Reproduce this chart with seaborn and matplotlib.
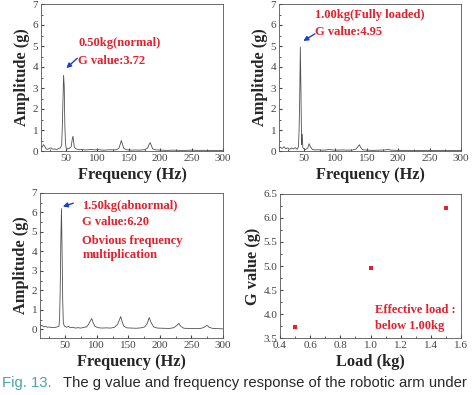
import numpy as np
import pandas as pd
import matplotlib
matplotlib.use("Agg")
import matplotlib.pyplot as plt
from matplotlib.ticker import MultipleLocator, FormatStrFormatter
from matplotlib.patches import Rectangle
import seaborn as sns

# -------------------------------------------------------------
# Data
# -------------------------------------------------------------
spec_050 = [(10, 0.12), (12, 0.2), (14, 0.3), (16, 0.22), (18, 0.1), (20, 0.08),
            (23, 0.12), (26, 0.15), (29, 0.08), (32, 0.1), (35, 0.07), (38, 0.12),
            (41, 0.15), (43, 0.3), (44, 1.2), (45, 2.4), (46, 3.6), (47, 3.1),
            (48, 1.2), (49, 0.4), (50, 0.15), (52, 0.1), (55, 0.12), (58, 0.2),
            (60, 0.6), (61, 0.7), (62, 0.45), (63, 0.2), (65, 0.12), (68, 0.08),
            (72, 0.06), (76, 0.07), (80, 0.05), (85, 0.06), (90, 0.08), (95, 0.05),
            (100, 0.07), (105, 0.05), (110, 0.04), (115, 0.05), (120, 0.06), (125, 0.05),
            (130, 0.06), (134, 0.12), (136, 0.3), (138, 0.5), (140, 0.3), (142, 0.12),
            (146, 0.06), (150, 0.05), (155, 0.04), (160, 0.05), (165, 0.04), (170, 0.05),
            (175, 0.06), (180, 0.15), (182, 0.3), (184, 0.4), (186, 0.25), (188, 0.1),
            (192, 0.06), (196, 0.05), (200, 0.04), (210, 0.03), (220, 0.04), (230, 0.03),
            (240, 0.03), (250, 0.04), (260, 0.03), (270, 0.03), (280, 0.03), (290, 0.02),
            (300, 0.02)]

spec_100 = [(10, 0.1), (12, 0.18), (15, 0.12), (18, 0.2), (21, 0.1), (24, 0.15),
            (27, 0.08), (30, 0.14), (33, 0.1), (36, 0.16), (39, 0.08), (41, 0.2),
            (42, 1.0), (43, 2.5), (44, 4.95), (45, 2.8), (46, 0.3), (47, 0.8),
            (48, 0.15), (50, 0.1), (53, 0.08), (56, 0.15), (58, 0.35), (60, 0.2),
            (63, 0.08), (67, 0.05), (72, 0.06), (78, 0.04), (85, 0.05), (90, 0.07),
            (95, 0.05), (100, 0.04), (110, 0.05), (120, 0.04), (128, 0.05), (133, 0.1),
            (136, 0.22), (138, 0.3), (140, 0.18), (143, 0.06), (150, 0.04), (160, 0.03),
            (170, 0.04), (180, 0.05), (184, 0.08), (188, 0.04), (200, 0.03), (215, 0.03),
            (230, 0.02), (245, 0.03), (260, 0.02), (275, 0.03), (290, 0.02), (300, 0.02)]

spec_150 = [(10, 0.15), (13, 0.2), (16, 0.12), (19, 0.15), (22, 0.1), (25, 0.12),
            (28, 0.08), (31, 0.1), (34, 0.09), (37, 0.12), (40, 0.15), (41, 0.5),
            (42, 2.0), (43, 4.5), (44, 6.2), (45, 4.0), (46, 1.5), (47, 0.3),
            (49, 0.15), (52, 0.1), (55, 0.15), (58, 0.08), (62, 0.1), (66, 0.06),
            (70, 0.08), (75, 0.06), (80, 0.1), (84, 0.12), (87, 0.25), (90, 0.45),
            (92, 0.55), (94, 0.35), (97, 0.15), (102, 0.08), (108, 0.06), (115, 0.07),
            (122, 0.06), (128, 0.1), (133, 0.25), (136, 0.5), (138, 0.65), (140, 0.4),
            (143, 0.15), (148, 0.07), (155, 0.06), (162, 0.05), (170, 0.07), (176, 0.12),
            (180, 0.3), (183, 0.6), (186, 0.35), (190, 0.12), (196, 0.06), (205, 0.05),
            (215, 0.04), (222, 0.08), (227, 0.2), (230, 0.3), (233, 0.15), (238, 0.05),
            (248, 0.04), (258, 0.03), (266, 0.05), (271, 0.12), (275, 0.2), (278, 0.1),
            (284, 0.04), (292, 0.03), (300, 0.02)]

loads = [0.5, 1.0, 1.5]
g_values = [3.72, 4.95, 6.20]

# -------------------------------------------------------------
# Style
# -------------------------------------------------------------
sns.set_style("ticks")
plt.rcParams['font.family'] = ['Liberation Serif', 'DejaVu Serif']
plt.rcParams.update({
    'xtick.direction': 'in', 'ytick.direction': 'in',
    'xtick.labelsize': 8, 'ytick.labelsize': 8,
    'xtick.major.size': 2.5, 'ytick.major.size': 2.5,
    'xtick.minor.size': 1.5, 'ytick.minor.size': 1.5,
    'axes.linewidth': 0.6, 'axes.edgecolor': '#555555',
    'xtick.color': '#444444', 'ytick.color': '#444444',
})

RED = '#e3202c'
BLUE = '#1a3fd0'
LINE = '#505050'

fig = plt.figure(figsize=(4.74, 3.95), dpi=100)
W, H = 474, 395


def add_ax(left, top, right, bottom):
    return fig.add_axes([left / W, 1 - bottom / H, (right - left) / W, (bottom - top) / H])


ax_tl = add_ax(41, 4, 223, 151)
ax_tr = add_ax(279, 4, 461, 151)
ax_bl = add_ax(40, 193, 223, 338)
ax_br = add_ax(280, 194, 461, 338)


def spectrum(ax, pairs, ylim):
    df = pd.DataFrame(pairs, columns=['freq', 'amp'])
    sns.lineplot(data=df, x='freq', y='amp', ax=ax, color=LINE, linewidth=0.6)
    ax.set_xlim(10, 300)
    ax.set_ylim(*ylim)
    ax.xaxis.set_major_locator(MultipleLocator(50))
    ax.xaxis.set_minor_locator(MultipleLocator(25))
    ax.yaxis.set_major_locator(MultipleLocator(1))
    ax.yaxis.set_minor_locator(MultipleLocator(0.5))
    ax.set_xlabel('Frequency (Hz)', fontsize=11.8, fontweight='bold', labelpad=3)
    ax.set_ylabel('Amplitude (g)', fontsize=11.8, fontweight='bold', labelpad=2)
    ax.tick_params(pad=2)
    for s in ax.spines.values():
        s.set_visible(True)


spectrum(ax_tl, spec_050, (0, 7))
spectrum(ax_tr, spec_100, (0, 7))
spectrum(ax_bl, spec_150, (-0.45, 7))

txt = dict(color=RED, fontsize=9, fontweight='bold', va='center', ha='left')
arw = dict(arrowstyle='-|>', color=BLUE, lw=1.0, mutation_scale=7)

ax_tl.text(69, 5.12, '0.50kg(normal)', **txt)
ax_tl.text(69, 4.3, 'G value:3.72', **txt)
ax_tl.annotate('', xy=(47, 3.86), xytext=(71, 4.5), arrowprops=arw)

ax_tr.text(68, 6.47, '1.00kg(Fully loaded)', **txt)
ax_tr.text(68, 5.65, 'G value:4.95', **txt)
ax_tr.annotate('', xy=(45, 5.17), xytext=(71, 5.65), arrowprops=arw)

ax_bl.text(77, 6.31, '1.50kg(abnormal)', **txt)
ax_bl.text(77, 5.53, 'G value:6.20', **txt)
ax_bl.text(77, 4.55, 'Obvious frequency', **txt)
ax_bl.text(77, 3.83, 'multiplication', **txt)
ax_bl.annotate('', xy=(42, 6.26), xytext=(67, 6.52), arrowprops=arw)

# G value vs load
df_g = pd.DataFrame({'load': loads, 'g': g_values})
sns.scatterplot(data=df_g, x='load', y='g', ax=ax_br, marker='s', s=12,
                color=RED, edgecolor=RED, linewidth=0)
ax_br.set_xlim(0.4, 1.6)
ax_br.set_ylim(3.5, 6.5)
ax_br.xaxis.set_major_locator(MultipleLocator(0.2))
ax_br.xaxis.set_minor_locator(MultipleLocator(0.1))
ax_br.yaxis.set_major_locator(MultipleLocator(0.5))
ax_br.yaxis.set_minor_locator(MultipleLocator(0.25))
ax_br.xaxis.set_major_formatter(FormatStrFormatter('%.1f'))
ax_br.yaxis.set_major_formatter(FormatStrFormatter('%.1f'))
ax_br.set_xlabel('Load (kg)', fontsize=11.8, fontweight='bold', labelpad=3)
ax_br.set_ylabel('G value (g)', fontsize=11.8, fontweight='bold', labelpad=2)
ax_br.tick_params(pad=2)
for s in ax_br.spines.values():
    s.set_visible(True)
ax_br.text(1.03, 4.08, 'Effective load :', **txt)
ax_br.text(1.03, 3.75, 'below 1.00kg', **txt)

# caption band
fig.add_artist(Rectangle((0, 0), 1, 1 - 371 / H, transform=fig.transFigure,
                         facecolor='white', edgecolor='none', zorder=10))
cap_y = 1 - 383 / H
fig.text(0.004, cap_y, 'Fig. 13.', color='#4aa3a5', fontsize=10.7,
         family=['Liberation Sans', 'DejaVu Sans'], va='center', zorder=11)
fig.text(63 / W, cap_y, 'The g value and frequency response of the robotic arm under',
         color='#2a2a2a', fontsize=10.7, family=['Liberation Sans', 'DejaVu Sans'],
         va='center', zorder=11)

fig.savefig('out.png', dpi=100)
